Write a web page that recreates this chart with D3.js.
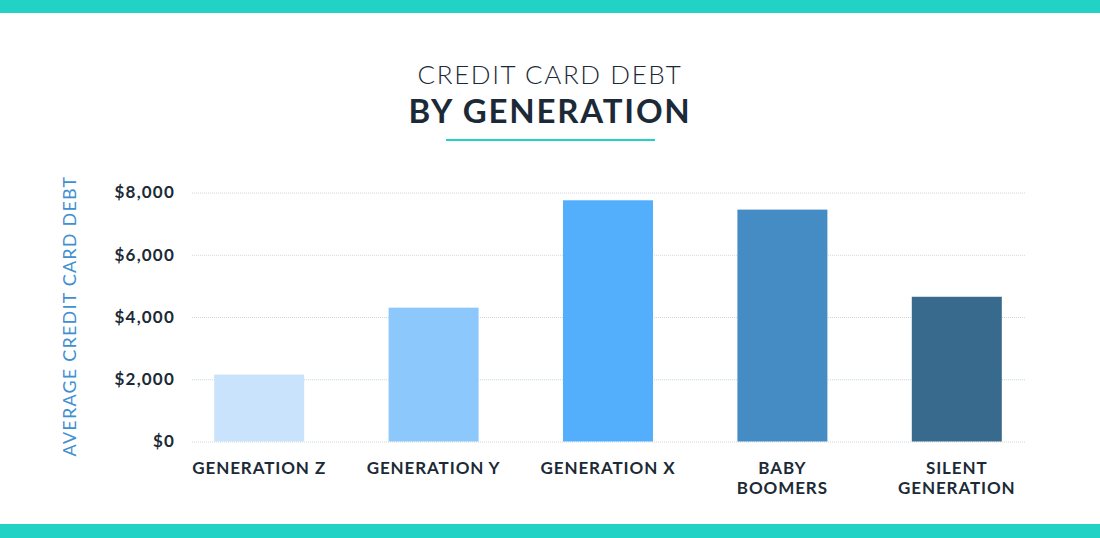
<!DOCTYPE html>
<html>
<head>
<meta charset="utf-8">
<script src="https://cdn.jsdelivr.net/npm/d3@7"></script>
<style>
  body { margin: 0; background: #fff; }
  svg { display: block; font-family: Lato, "Open Sans", sans-serif; }
</style>
</head>
<body>
<svg class="js-render-chart" width="1100" height="538"></svg>
<script>
"use strict";

//data

const generations = ["GENERATION Z", "GENERATION Y", "GENERATION X", "BABY BOOMERS", "SILENT GENERATION"];
const labelLines = [["GENERATION Z"], ["GENERATION Y"], ["GENERATION X"], ["BABY", "BOOMERS"], ["SILENT", "GENERATION"]];
const debt = [2150, 4300, 7750, 7450, 4650];
const barColors = ["#c8e3fb", "#8cc8fb", "#53aefc", "#458bc4", "#376a8c"];
const yTicks = [0, 2000, 4000, 6000, 8000];

//layout

const W = 1100, H = 538;
const teal = "#22d3c5";
const ink = "#1b2a36";

const svg = d3.select(".js-render-chart");

//frame bands

svg.append("rect").attr("x", 0).attr("y", 0).attr("width", W).attr("height", 13).attr("fill", teal);
svg.append("rect").attr("x", 0).attr("y", 524).attr("width", W).attr("height", 14).attr("fill", teal);

//title

svg.append("text")
  .attr("x", 550).attr("y", 84)
  .attr("text-anchor", "middle")
  .attr("font-size", 26).attr("font-weight", 300)
  .attr("letter-spacing", 1.6)
  .attr("fill", ink)
  .text("CREDIT CARD DEBT");

svg.append("text")
  .attr("x", 550).attr("y", 123)
  .attr("text-anchor", "middle")
  .attr("font-size", 33).attr("font-weight", 700)
  .attr("letter-spacing", 1.8)
  .attr("fill", ink)
  .text("BY GENERATION");

svg.append("line")
  .attr("x1", 446).attr("x2", 655).attr("y1", 140).attr("y2", 140)
  .attr("stroke", teal).attr("stroke-width", 2);

//scales

const x = d3.scaleBand()
  .domain(generations)
  .range([172, 1044])
  .paddingInner(0.484)
  .paddingOuter(0.242);

const y = d3.scaleLinear()
  .domain([0, 8000])
  .range([441.5, 192.5]);

//grid

const yAxis = d3.axisLeft(y)
  .tickValues(yTicks)
  .tickSize(-(1025 - 192))
  .tickPadding(17)
  .tickFormat((d) => "$" + d3.format(",")(d));

const gAxis = svg.append("g")
  .attr("transform", "translate(192,0)")
  .call(yAxis);

gAxis.select(".domain").remove();
gAxis.selectAll(".tick line")
  .attr("stroke", "#c9dadd")
  .attr("stroke-dasharray", "1,1");
gAxis.selectAll(".tick text")
  .attr("font-size", 17).attr("font-weight", 700)
  .attr("font-family", "Lato, sans-serif")
  .attr("letter-spacing", 1.2)
  .attr("fill", ink);

//bars

svg.append("g")
  .selectAll("rect")
  .data(generations)
  .enter()
  .append("rect")
  .attr("x", (d) => x(d))
  .attr("width", x.bandwidth())
  .attr("y", (d, i) => y(debt[i]))
  .attr("height", (d, i) => y(0) - y(debt[i]))
  .attr("fill", (d, i) => barColors[i]);

//x labels

const xl = svg.append("g")
  .selectAll("text")
  .data(generations)
  .enter()
  .append("text")
  .attr("text-anchor", "middle")
  .attr("font-size", 17).attr("font-weight", 700)
  .attr("letter-spacing", 0.9)
  .attr("fill", ink);

xl.each(function (d, i) {
  d3.select(this).selectAll("tspan")
    .data(labelLines[i])
    .enter()
    .append("tspan")
    .attr("x", x(d) + x.bandwidth() / 2)
    .attr("y", (t, j) => 474 + j * 20)
    .text((t) => t);
});

//y title

svg.append("text")
  .attr("transform", "translate(76,316) rotate(-90)")
  .attr("text-anchor", "middle")
  .attr("font-size", 18).attr("font-weight", 400)
  .attr("letter-spacing", 1.2)
  .attr("fill", "#3f8fd2")
  .text("AVERAGE CREDIT CARD DEBT");
</script>
</body>
</html>
